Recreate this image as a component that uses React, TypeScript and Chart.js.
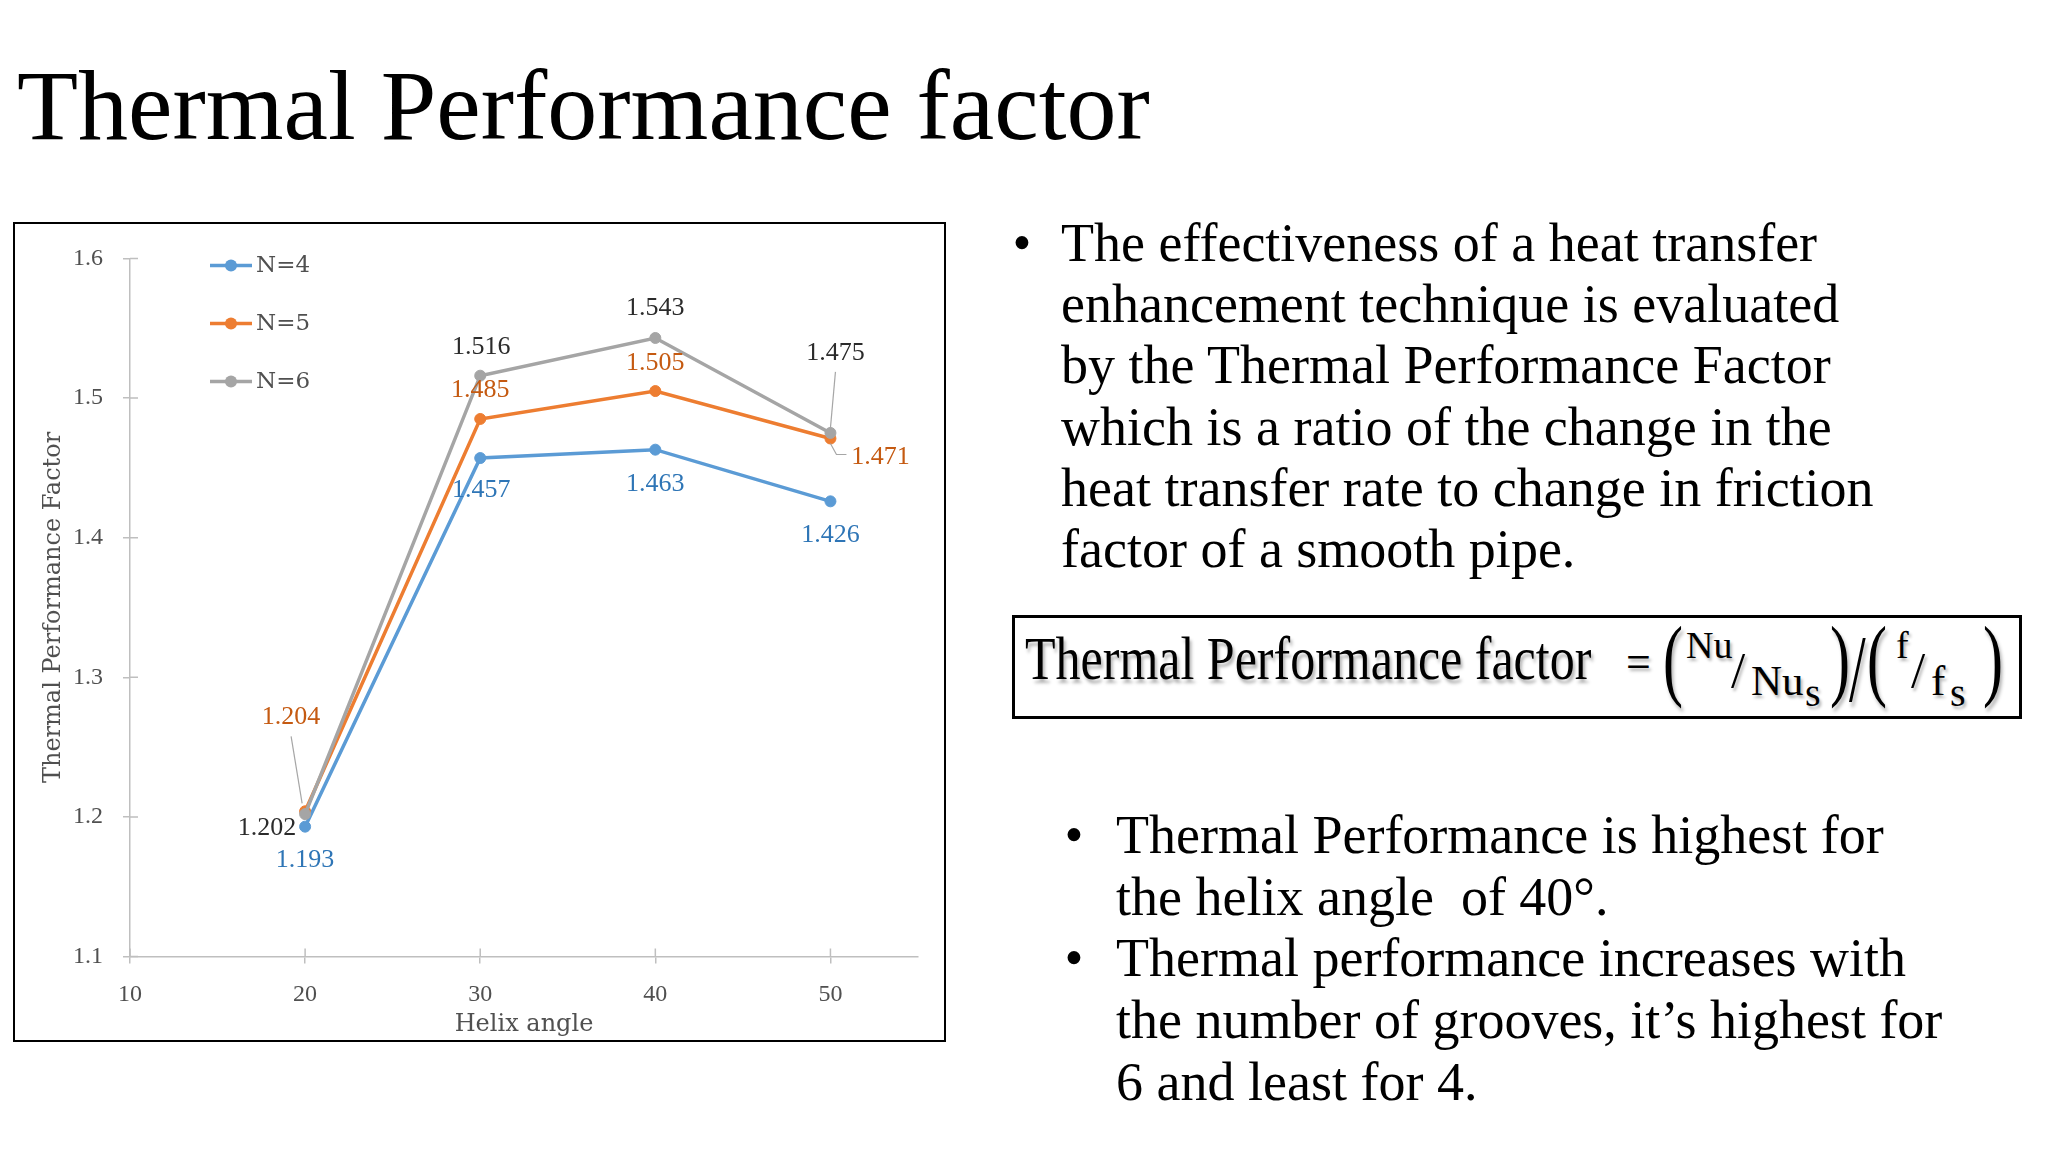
import React, { useEffect, useRef } from 'react';
import { Chart, registerables } from 'chart.js';

Chart.register(...registerables);

// ---- data ----
const helixAngles = [20, 30, 40, 50];
const seriesNames = ['N=4', 'N=5', 'N=6'];
const tpfN4 = [1.193, 1.457, 1.463, 1.426];
const tpfN5 = [1.204, 1.485, 1.505, 1.471];
const tpfN6 = [1.202, 1.516, 1.543, 1.475];
const yMin = 1.1;
const yMax = 1.6;
const xMin = 10;
const xMax = 55;
const xTitle = 'Helix angle';
const yTitle = 'Thermal Performance Factor';

const slideTitle = 'Thermal Performance factor';
const bulletsTop = [
  'The effectiveness of a heat transfer',
  'enhancement technique is evaluated',
  'by the Thermal Performance Factor',
  'which is a ratio of the change in the',
  'heat transfer rate to change in friction',
  'factor of a smooth pipe.',
];
const bulletsBottomA = ['Thermal Performance is highest for', 'the helix angle  of 40°.'];
const bulletsBottomB = [
  'Thermal performance increases with',
  'the number of grooves, it’s highest for',
  '6 and least for 4.',
];

// ---- styles / layout ----
const lineColors = ['#5B9BD5', '#ED7D31', '#A5A5A5'];
const labelColors = ['#2E75B6', '#C55A11', '#2B2B2B'];
const labelOffsets = [
  [[0, 34], [1, 32], [0, 34], [0, 34]],
  [[-14, -94], [0, -29], [0, -28], [50, 19]],
  [[-38, 14], [1, -29], [0, -30], [5, -80]],
];
const leaderLines: Record<string, number[][]> = {
  '1-0': [[-14, -75], [-3, -8]],
  '1-3': [[0, 5], [6, 16], [16, 16]],
  '2-3': [[5, -61], [0, -5]],
};
const AXIS_COLOR = '#BFBFBF';
const TEXT_GRAY = '#505050';
const NUM_FONT = '"Liberation Serif"';
const TXT_FONT = '"DejaVu Serif"';

const labelPlugin = {
  id: 'dataLabels',
  afterDatasetsDraw(chart: any) {
    const ctx = chart.ctx;
    chart.data.datasets.forEach((ds: any, di: number) => {
      const meta = chart.getDatasetMeta(di);
      meta.data.forEach((pt: any, i: number) => {
        const [dx, dy] = labelOffsets[di][i];
        const lead = leaderLines[`${di}-${i}`];
        if (lead) {
          ctx.save();
          ctx.strokeStyle = '#A6A6A6';
          ctx.lineWidth = 1.2;
          ctx.beginPath();
          lead.forEach(([lx, ly], k) => {
            if (k === 0) ctx.moveTo(pt.x + lx, pt.y + ly);
            else ctx.lineTo(pt.x + lx, pt.y + ly);
          });
          ctx.stroke();
          ctx.restore();
        }
        ctx.save();
        ctx.font = `26px ${NUM_FONT}`;
        ctx.fillStyle = labelColors[di];
        ctx.textAlign = 'center';
        ctx.textBaseline = 'middle';
        ctx.fillText(ds.data[i].y.toFixed(3), pt.x + dx, pt.y + dy);
        ctx.restore();
      });
    });
  },
};

const legendPlugin = {
  id: 'insideLegend',
  afterDraw(chart: any) {
    const ctx = chart.ctx;
    const { left, top } = chart.chartArea;
    chart.data.datasets.forEach((ds: any, di: number) => {
      const y = top + 7 + di * 58;
      const x0 = left + 80;
      ctx.save();
      ctx.strokeStyle = lineColors[di];
      ctx.lineWidth = 3.5;
      ctx.beginPath();
      ctx.moveTo(x0, y);
      ctx.lineTo(x0 + 42, y);
      ctx.stroke();
      ctx.fillStyle = lineColors[di];
      ctx.beginPath();
      ctx.arc(x0 + 21, y, 6, 0, Math.PI * 2);
      ctx.fill();
      ctx.font = `23px ${TXT_FONT}`;
      ctx.fillStyle = TEXT_GRAY;
      ctx.textAlign = 'left';
      ctx.textBaseline = 'middle';
      ctx.fillText(ds.label, x0 + 46, y + 1);
      ctx.restore();
    });
  },
};

const innerTicksPlugin = {
  id: 'innerTicks',
  beforeDatasetsDraw(chart: any) {
    const ctx = chart.ctx;
    const xs = chart.scales.x;
    const ys = chart.scales.y;
    const { left, bottom } = chart.chartArea;
    ctx.save();
    ctx.strokeStyle = AXIS_COLOR;
    ctx.lineWidth = 1.5;
    ctx.beginPath();
    ys.ticks.forEach((t: any) => {
      const py = ys.getPixelForValue(t.value);
      ctx.moveTo(left, py);
      ctx.lineTo(left + 8, py);
    });
    xs.ticks.forEach((t: any) => {
      const px = xs.getPixelForValue(t.value);
      ctx.moveTo(px, bottom);
      ctx.lineTo(px, bottom - 8);
    });
    ctx.stroke();
    ctx.restore();
  },
};

function ChartBox() {
  const ref = useRef<HTMLCanvasElement | null>(null);
  useEffect(() => {
    if (!ref.current) return;
    const series = [tpfN4, tpfN5, tpfN6];
    const chart = new Chart(ref.current, {
      type: 'line',
      data: {
        datasets: series.map((vals, di) => ({
          label: seriesNames[di],
          data: helixAngles.map((x, i) => ({ x, y: vals[i] })),
          borderColor: lineColors[di],
          backgroundColor: lineColors[di],
          borderWidth: 3.5,
          pointRadius: 5.5,
          pointBorderWidth: 1,
          pointBorderColor: lineColors[di],
          pointBackgroundColor: lineColors[di],
          tension: 0,
          order: 3 - di,
        })),
      },
      options: {
        animation: false,
        responsive: false,
        maintainAspectRatio: false,
        layout: { padding: { top: 34, right: 26, left: 0, bottom: 0 } },
        plugins: { legend: { display: false }, tooltip: { enabled: false } },
        scales: {
          x: {
            type: 'linear',
            min: xMin,
            max: xMax,
            afterFit: (s: any) => {
              s.height = 83.5;
            },
            ticks: {
              stepSize: 10,
              includeBounds: false,
              padding: 17,
              maxRotation: 0,
              color: TEXT_GRAY,
              font: { family: NUM_FONT, size: 24 },
            },
            grid: { drawOnChartArea: false, drawTicks: true, tickLength: 7, color: AXIS_COLOR, lineWidth: 1.5 },
            border: { display: true, color: AXIS_COLOR, width: 1.5 },
            title: {
              display: true,
              text: xTitle,
              color: TEXT_GRAY,
              font: { family: TXT_FONT, size: 24 },
              padding: { top: 0, bottom: 1 },
            },
          },
          y: {
            min: yMin,
            max: yMax,
            afterFit: (s: any) => {
              s.width = 115;
            },
            ticks: {
              stepSize: 0.1,
              padding: 20,
              color: TEXT_GRAY,
              font: { family: NUM_FONT, size: 24 },
              callback: (v: any) => Number(v).toFixed(1),
            },
            grid: { drawOnChartArea: false, drawTicks: true, tickLength: 7, color: AXIS_COLOR, lineWidth: 1.5 },
            border: { display: true, color: AXIS_COLOR, width: 1.5 },
            title: {
              display: true,
              text: yTitle,
              color: TEXT_GRAY,
              font: { family: TXT_FONT, size: 24 },
              padding: { top: 24.6, bottom: 0 },
            },
          },
        },
      },
      plugins: [innerTicksPlugin, labelPlugin, legendPlugin],
    } as any);
    return () => chart.destroy();
  }, []);
  return (
    <div
      style={{
        position: 'absolute',
        left: 13,
        top: 222,
        width: 933,
        height: 820,
        border: '2px solid #000',
        boxSizing: 'border-box',
        background: '#fff',
      }}
    >
      <canvas ref={ref} width={929} height={816} style={{ display: 'block', width: 929, height: 816 }} />
    </div>
  );
}

const ASC = 0.8375;

function Txt(props: {
  x: number;
  b: number;
  size: number;
  children: any;
  family?: string;
  sy?: number;
  sx?: number;
  style?: any;
}) {
  const { x, b, size, children, family = '"Liberation Serif"', sy = 1, sx = 1, style } = props;
  return (
    <div
      style={{
        position: 'absolute',
        left: x,
        top: b - ASC * size,
        fontSize: size,
        lineHeight: 1,
        fontFamily: family,
        whiteSpace: 'pre',
        color: '#000',
        transform: sx !== 1 || sy !== 1 ? `scale(${sx}, ${sy})` : undefined,
        transformOrigin: `0px ${ASC * size}px`,
        ...style,
      }}
    >
      {children}
    </div>
  );
}

const SHADOW = { textShadow: '2px 3px 3px rgba(0,0,0,0.3)' };

export default function App() {
  return (
    <div
      style={{
        position: 'absolute',
        left: 0,
        top: 0,
        width: 2048,
        height: 1152,
        background: '#fff',
        overflow: 'hidden',
      }}
    >
      <Txt x={17} b={140} size={100}>
        {slideTitle}
      </Txt>

      <ChartBox />

      {/* top bullet */}
      <Txt x={1012.5} b={261.5} size={54}>
        •
      </Txt>
      {bulletsTop.map((t, i) => (
        <Txt key={'a' + i} x={1061} b={261.5 + i * 61.1} size={54}>
          {t}
        </Txt>
      ))}

      {/* formula box */}
      <div
        style={{
          position: 'absolute',
          left: 1012,
          top: 615,
          width: 1010,
          height: 104,
          border: '3px solid #000',
          boxSizing: 'border-box',
        }}
      />
      <Txt x={1025} b={679} size={50} sy={1.22} style={SHADOW}>
        Thermal Performance factor
      </Txt>
      <Txt x={1626} b={679} size={44} sy={1.1} style={SHADOW}>
        =
      </Txt>
      <Txt x={1663} b={689} size={60} sy={1.52} style={SHADOW}>
        (
      </Txt>
      <Txt x={1686} b={658} size={38} style={SHADOW}>
        Nu
      </Txt>
      <Txt x={1731} b={688} size={51} style={SHADOW}>
        /
      </Txt>
      <Txt x={1751} b={695} size={43} style={SHADOW}>
        Nu
      </Txt>
      <Txt x={1805} b={706} size={40} style={SHADOW}>
        s
      </Txt>
      <Txt x={1830} b={689} size={60} sy={1.52} style={SHADOW}>
        )
      </Txt>
      <Txt x={1849} b={701} size={60} sy={1.6} style={SHADOW}>
        /
      </Txt>
      <Txt x={1867} b={689} size={60} sy={1.52} style={SHADOW}>
        (
      </Txt>
      <Txt x={1896} b={658} size={38} style={SHADOW}>
        f
      </Txt>
      <Txt x={1911} b={688} size={51} style={SHADOW}>
        /
      </Txt>
      <Txt x={1931} b={695} size={43} style={SHADOW}>
        f
      </Txt>
      <Txt x={1950} b={706} size={40} style={SHADOW}>
        s
      </Txt>
      <Txt x={1983} b={689} size={60} sy={1.52} style={SHADOW}>
        )
      </Txt>

      {/* bottom bullets */}
      <Txt x={1064.5} b={853.3} size={54}>
        •
      </Txt>
      {bulletsBottomA.map((t, i) => (
        <Txt key={'b' + i} x={1116} b={853.3 + i * 61.7} size={54}>
          {t}
        </Txt>
      ))}
      <Txt x={1064.5} b={853.3 + 2 * 61.7} size={54}>
        •
      </Txt>
      {bulletsBottomB.map((t, i) => (
        <Txt key={'c' + i} x={1116} b={853.3 + (i + 2) * 61.7} size={54}>
          {t}
        </Txt>
      ))}
    </div>
  );
}
